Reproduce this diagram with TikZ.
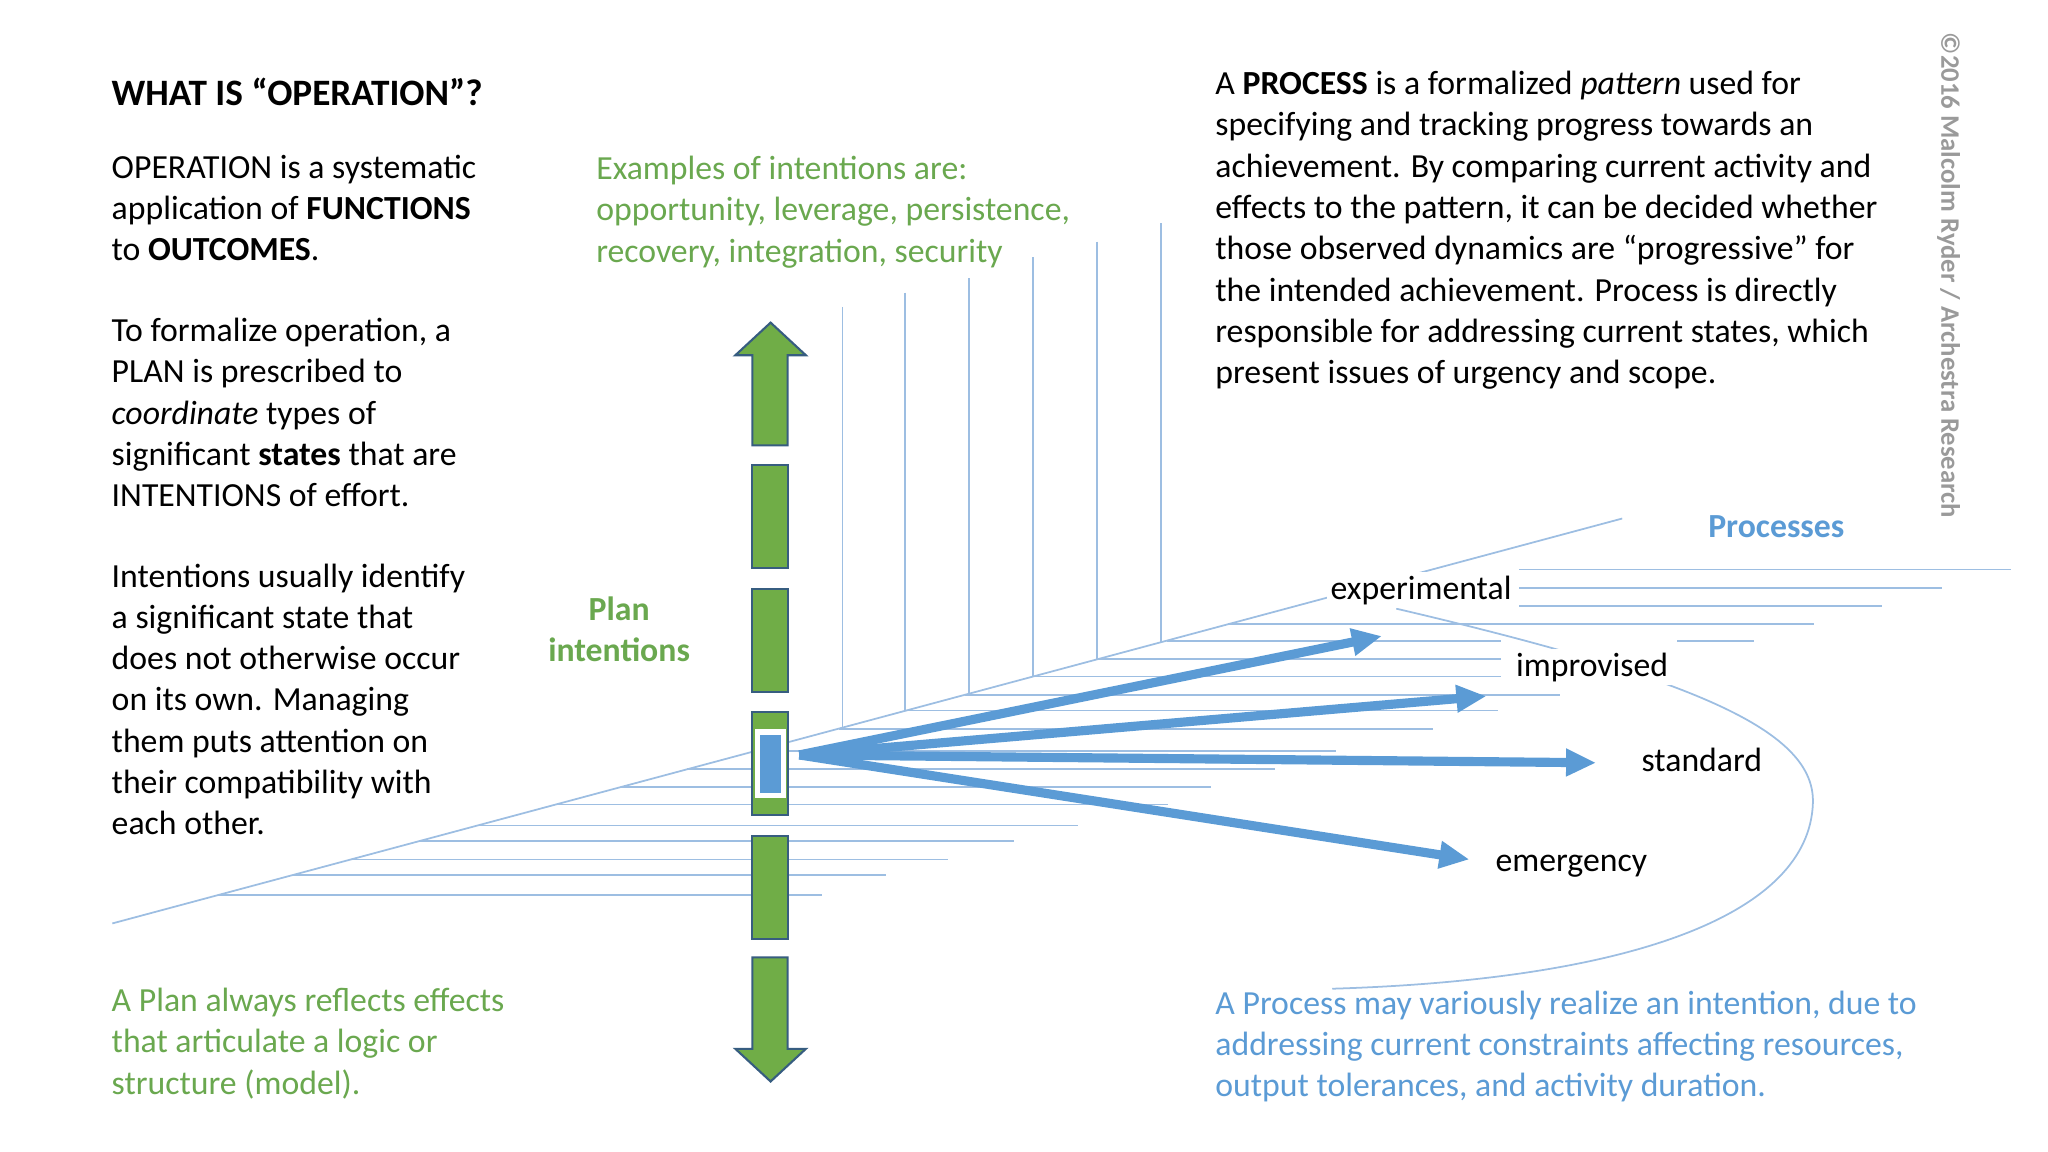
\documentclass[tikz,border=0pt]{standalone}
\usepackage{fontspec}
\setmainfont{Carlito}
\usetikzlibrary{arrows.meta}
\definecolor{pgreen}{HTML}{6AA84F}
\definecolor{cgreen}{HTML}{70AD47}
\definecolor{pblue}{HTML}{5B9BD5}
\definecolor{lblue}{HTML}{9DBEE2}
\definecolor{cgray}{HTML}{9A9A9A}
\begin{document}
\begin{tikzpicture}[x=0.01306cm,y=-0.01306cm,
  txt/.style={anchor=north west,inner sep=0pt,align=left,font=\fontsize{9.6}{11.75}\selectfont},
  grid/.style={draw=lblue,line width=0.5pt},
  block/.style={fill=cgreen,draw=pblue!60!black,line width=0.6pt},
  parrow/.style={draw=pblue,line width=2.6pt,-{Triangle[length=3mm,width=2.6mm]}},
  lab/.style={inner sep=1pt,fill=white,font=\fontsize{9.6}{11.75}\selectfont}]
\useasboundingbox (0,0) rectangle (1568,882);
% perspective grid
\draw[grid] (86,707) -- (1242,397);
\foreach \x/\t/\b in {645/235/557.2,693/224/544.3,742/213/531.2,791/197/518.1,840/185/504.9,889/171/491.8}
  \draw[grid] (\x,\t) -- (\x,\b);
\foreach \y/\l/\r in {436/1163/1540,450/1163/1487,464/1163/1441,478/940.5/1389,490.5/893.8/1149,504.5/841.6/1149,518/791.2/1149,532/739/1194,544/694/1147,558/642/1097,575/578.5/1023,589/526/976,602.6/475.6/927,616/425.6/894,632/365.9/825,644/321/776,658/268.8/726,670/224/678,685/168/629}
  \draw[grid] (\l,\y) -- (\r,\y);
\draw[grid] (1284,490.5) -- (1343,490.5);
\draw[grid] (1069,466) .. controls (1300,520) and (1390,560) .. (1388,615)
  .. controls (1385,700) and (1250,750) .. (1020,757);
% plan column
\draw[block] (576,341) -- (576,272) -- (563,272) -- (590,247) -- (617,272) -- (603,272) -- (603,341) -- cycle;
\draw[block] (576,356) rectangle (603,435);
\draw[block] (576,451) rectangle (603,530);
\draw[block] (576,545) rectangle (603,624);
\draw[block] (576,640) rectangle (603,719);
\draw[block] (576,733) -- (603,733) -- (603,803) -- (617,803) -- (590,828) -- (563,803) -- (576,803) -- cycle;
\fill[white] (578,558) rectangle (602,611);
\fill[pblue] (582,563) rectangle (598,607);
% process labels
\node[lab] (exp) at (1088,452) {experimental};
\node[lab] (imp) at (1219,511) {improvised};
\node[lab] (std) at (1303,582) {standard};
\node[lab] (emg) at (1203,663) {emergency};
\coordinate (o) at (612,578);
\coordinate (e1) at (1058,487);
\coordinate (e2) at (1138,533);
\coordinate (e3) at (1222,584);
\coordinate (e4) at (1125,658);
\foreach \e in {e1,e2,e3,e4} \draw[parrow] (o) -- (\e);
\node[inner sep=0pt,text=pblue,font=\fontsize{9.6}{11.75}\selectfont\bfseries] (proc) at (1360,403) {Processes};
\node[inner sep=0pt,text=pgreen,align=center,font=\fontsize{9.6}{11.75}\selectfont\bfseries] (plan) at (474,482) {Plan\\intentions};
% texts
\node[txt,font=\fontsize{10.6}{12}\selectfont\bfseries] (title) at (85,59) {WHAT IS “OPERATION”?};
\node[txt] (p1) at (85,118) {OPERATION is a systematic\\application of \textbf{FUNCTIONS}\\to \textbf{OUTCOMES}.};
\node[txt] (p2) at (85,243) {To formalize operation, a\\PLAN is prescribed to\\\textit{coordinate} types of\\significant \textbf{states} that are\\INTENTIONS of effort.};
\node[txt] (p3) at (85,431) {Intentions usually identify\\a significant state that\\does not otherwise occur\\on its own. Managing\\them puts attention on\\their compatibility with\\each other.};
\node[txt,text=pgreen] (ex) at (456,119) {Examples of intentions are:\\opportunity, leverage, persistence,\\recovery, integration, security};
\node[txt] (pr) at (930,54) {A \textbf{PROCESS} is a formalized \textit{pattern} used for\\specifying and tracking progress towards an\\achievement. By comparing current activity and\\effects to the pattern, it can be decided whether\\those observed dynamics are “progressive” for\\the intended achievement. Process is directly\\responsible for addressing current states, which\\present issues of urgency and scope.};
\node[txt,text=pgreen] (bl) at (85,756) {A Plan always reflects effects\\that articulate a logic or\\structure (model).};
\node[txt,text=pblue] (br) at (930,758) {A Process may variously realize an intention, due to\\addressing current constraints affecting resources,\\output tolerances, and activity duration.};
\node[rotate=-90,inner sep=0pt,text=cgray,font=\fontsize{7.6}{9}\selectfont\bfseries] (copy) at (1492,211) {©2016 Malcolm Ryder / Archestra Research};
\end{tikzpicture}
\end{document}
